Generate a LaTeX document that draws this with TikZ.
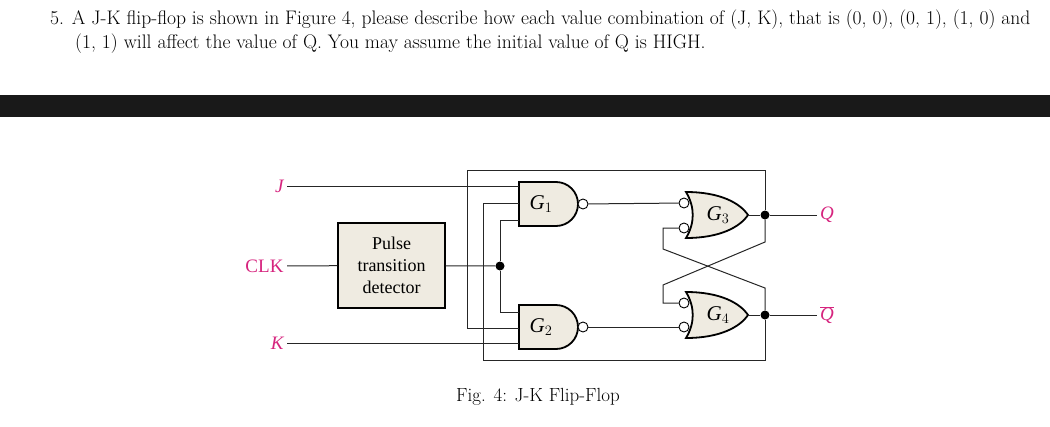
\documentclass[tikz,border=0pt]{standalone}
\usepackage{fontspec}
\newfontfamily\tms{Liberation Serif}
\begin{document}
\begin{tikzpicture}[x=1pt,y=-1pt,
  w/.style={line width=1pt,draw=black!85},
  g/.style={line width=1.8pt,draw=black,fill=gatefill},
  bub/.style={circle,draw=black,line width=0.9pt,fill=white,inner sep=0pt,minimum size=10pt},
  dot/.style={circle,fill=black,inner sep=0pt,minimum size=9pt},
  lab/.style={text=labc,font=\tms\fontsize{19}{19}\selectfont},
  ilab/.style={text=labc,font=\tms\itshape\fontsize{19}{19}\selectfont},
  gl/.style={font=\tms\fontsize{21}{21}\selectfont\itshape}]
\definecolor{gatefill}{HTML}{EFEBE1}
\definecolor{labc}{HTML}{D6247E}
\useasboundingbox (0,0) rectangle (1050,426);
% header
\node[anchor=base west,inner sep=0pt,font=\fontsize{19.6}{20}\selectfont] (h1) at (50,24) {5. A J-K flip-flop is shown in Figure 4, please describe how each value combination of (J, K), that is (0, 0), (0, 1), (1, 0) and};
\node[anchor=base west,inner sep=0pt,font=\fontsize{19.6}{20}\selectfont] (h2) at (75,48) {(1, 1) will affect the value of Q. You may assume the initial value of Q is HIGH.};
\fill[black!90] (0,95) rectangle (1050,117);
% labels
\node[ilab,anchor=east] (J) at (287,186) {J};
\node[lab,anchor=east] (CLK) at (287,266) {CLK};
\node[ilab,anchor=east] (K) at (287,343) {K};
\node[ilab] (Q) at (827,215) {Q};
\node[ilab] (Qb) at (827,315) {$\overline{\mbox{\itshape Q}}$};
% pulse box
\node[g,line width=1.3pt,minimum width=107pt,minimum height=85pt,align=center,font=\tms\fontsize{18}{22}\selectfont] (P) at (391.5,265.5) {Pulse\\transition\\detector};
% gate pins
\coordinate (g1a) at (519,186); \coordinate (g1b) at (519,203); \coordinate (g1c) at (519,220);
\coordinate (g2a) at (519,312); \coordinate (g2b) at (519,328); \coordinate (g2c) at (519,343);
% NAND G1, G2
\foreach \yc in {204,327}{
  \path[g] (519,\yc-22) -- (556,\yc-22) arc[start angle=-90,end angle=90,radius=22] -- (519,\yc+22) -- cycle;
}
\node[gl] (G1) at (541,204) {G$_1$};
\node[gl] (G2) at (541,327) {G$_2$};
\node[bub] (b1) at (583,204) {};
\node[bub] (b2) at (583,327) {};
% OR G3, G4
\foreach \yc in {215,315}{
  \path[g] (686,\yc-23) .. controls (695,\yc-8) and (695,\yc+8) .. (686,\yc+23)
     .. controls (720,\yc+23) and (740,\yc+12) .. (748,\yc)
     .. controls (740,\yc-12) and (720,\yc-23) .. (686,\yc-23) -- cycle;
}
\node[gl] (G3) at (718,215) {G$_3$};
\node[gl] (G4) at (718,315) {G$_4$};
\node[bub] (b3a) at (684,203) {}; \node[bub] (b3b) at (684,228) {};
\node[bub] (b4a) at (684,303) {}; \node[bub] (b4b) at (684,327) {};
\node[dot] (dq) at (765,215) {};
\node[dot] (dqb) at (765,315) {};
\node[dot] (dc) at (500,266) {};
% wires
\draw[w] (J) -- (g1a);
\draw[w] (K) -- (g2c);
\draw[w] (CLK) -- (P);
\draw[w] (P) -- (dc);
\draw[w] (g1c) -| (dc) |- (g2a);
\draw[w] (b1) -- (b3a);
\draw[w] (b2) -- (b4b);
\draw[w] (748,215) -- (dq) -- (Q);
\draw[w] (748,315) -- (dqb) -- (Qb);
\draw[w] (g2b) -| (467,170) -| (dq);
\draw[w] (g1b) -| (483,360) -| (dqb);
\draw[w] (dq) -- (765,242) -- (663,285) |- (b4a);
\draw[w] (b3b) -| (663,249) -- (765,288) -- (dqb);
% caption
\node[font=\fontsize{19}{20}\selectfont] (cap) at (538,397) {Fig. 4: J-K Flip-Flop};
\end{tikzpicture}
\end{document}
